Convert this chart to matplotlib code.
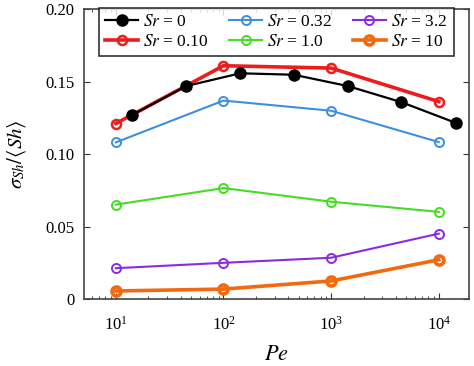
import numpy as np
import matplotlib
matplotlib.use('Agg')
import matplotlib.pyplot as plt
from matplotlib.ticker import FixedLocator, FuncFormatter, LogLocator

plt.rcParams['font.family'] = 'Liberation Serif'
plt.rcParams['mathtext.fontset'] = 'stix'

# data
pe_sr0 = [14.1, 45, 143, 450, 1430, 4500, 14300]
sh_sr0 = [0.127, 0.147, 0.1558, 0.1548, 0.147, 0.1359, 0.1217]

pe_runs = [10, 100, 1000, 10000]
sh_sr010 = [0.1212, 0.161, 0.1594, 0.1363]
sh_sr032 = [0.1082, 0.137, 0.130, 0.1084]
sh_sr1 = [0.0653, 0.0767, 0.0673, 0.0603]
sh_sr32 = [0.0215, 0.0252, 0.0287, 0.0453]
sh_sr10 = [0.0058, 0.0071, 0.0127, 0.0273]

fig = plt.figure(figsize=(4.74, 3.66), dpi=100)
ax = fig.add_axes([0.177, 0.182, 0.812, 0.793])

ln_red, = ax.plot(pe_runs, sh_sr010, color='#ee1c1c', lw=2.6, marker='o', ms=6.5,
                  mfc='none', mew=1.8, label=r'$Sr$ = 0.10')
ln_blk, = ax.plot(pe_sr0, sh_sr0, color='black', lw=1.6, marker='o', ms=8,
                  mfc='black', label=r'$Sr$ = 0')
ln_blu, = ax.plot(pe_runs, sh_sr032, color='#3d8fe0', lw=1.5, marker='o', ms=6.5,
                  mfc='none', mew=1.4, label=r'$Sr$ = 0.32')
ln_grn, = ax.plot(pe_runs, sh_sr1, color='#44dd22', lw=1.5, marker='o', ms=6.5,
                  mfc='none', mew=1.4, label=r'$Sr$ = 1.0')
ln_pur, = ax.plot(pe_runs, sh_sr32, color='#8a2be2', lw=1.5, marker='o', ms=6.5,
                  mfc='none', mew=1.4, label=r'$Sr$ = 3.2')
ln_org, = ax.plot(pe_runs, sh_sr10, color='#f26a10', lw=2.6, marker='o', ms=6.5,
                  mfc='none', mew=2.6, label=r'$Sr$ = 10')

ax.set_xscale('log')
ax.set_xlim(5.05, 1.9e4)
ax.set_ylim(0, 0.20)
ax.yaxis.set_major_locator(FixedLocator([0, 0.05, 0.10, 0.15, 0.20]))
ax.yaxis.set_major_formatter(FuncFormatter(lambda v, p: '0' if v == 0 else f'{v:.2f}'))
ax.xaxis.set_major_locator(LogLocator(base=10))
ax.xaxis.set_minor_locator(LogLocator(base=10, subs=np.arange(2, 10)))

ax.tick_params(which='both', direction='in', top=True, right=True,
               labelsize=12, colors='#333333', labelcolor='black')
ax.tick_params(which='major', length=4)
ax.tick_params(axis='x', which='major', pad=12)
ax.tick_params(axis='y', which='major', pad=7)
ax.tick_params(which='minor', length=2.5)
for s in ax.spines.values():
    s.set_color('#444444')
    s.set_linewidth(1.2)

ax.set_xlabel(r'$Pe$', fontsize=16, labelpad=9)
ax.set_ylabel(r'$\sigma_{Sh}/\langle Sh\rangle$', fontsize=15, labelpad=12)

handles = [ln_blk, ln_red, ln_blu, ln_grn, ln_pur, ln_org]
leg = ax.legend(handles=handles, ncol=3, loc='upper center', bbox_to_anchor=(0.5, 1.005),
                fontsize=12.5, frameon=True, fancybox=False, edgecolor='black',
                handlelength=1.9, handletextpad=0.3, columnspacing=1.15,
                borderpad=0.35, labelspacing=0.25, borderaxespad=0.0)
leg.get_frame().set_linewidth(1.2)

fig.savefig('out.png', dpi=100)
